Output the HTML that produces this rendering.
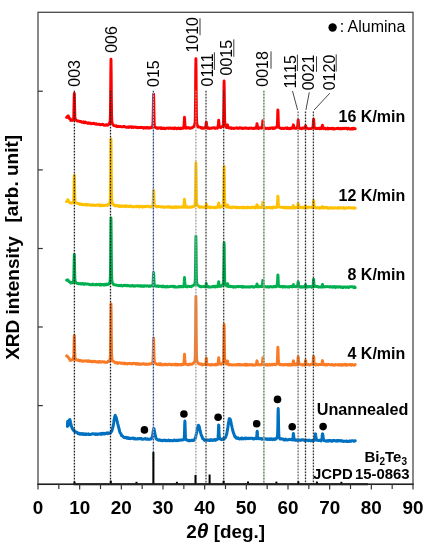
<!DOCTYPE html><html><head><meta charset="utf-8"><title>XRD</title><style>html,body{margin:0;padding:0;background:#fff;}svg{display:block;}</style></head><body><svg width="434" height="550" viewBox="0 0 434 550"><rect width="434" height="550" fill="#fff"/><polyline fill="none" stroke="#ff0000" stroke-width="2.9" stroke-linejoin="round" stroke-linecap="round" points="66.6,117.36 67.2,117.12 67.8,115.96 68.4,116.04 69,118.43 69.6,118.52 70.2,118.68 70.8,120.43 71.4,120.18 72,119.92 72.6,120.4 73.1,119.56 73.2,119.77 73.46,118.48 73.7,116.68 73.8,114.44 73.94,107.96 74.12,98.65 74.3,93.49 74.4,94.33 74.48,97.75 74.66,108.31 74.9,117.24 75,118.08 75.14,118.79 75.5,119.68 75.6,119.41 76.2,120.14 76.8,120.72 77.4,121.02 78,120.94 78.6,121.09 79.2,121.21 79.8,121.56 80.4,121.5 81,121.34 81.6,122.25 82.2,122.06 82.8,122.24 83.4,121.88 84,122.78 84.6,122.73 85.2,122.08 85.8,122.38 86.4,122.86 87,122.94 87.6,123.25 88.2,122.82 88.8,123.32 89.4,123.24 90,122.96 90.6,123.33 91.2,123.7 91.8,123.74 92.4,123.48 93,123.64 93.6,123.17 94.2,123.46 94.8,124.09 95.4,123.78 96,123.62 96.6,124.07 97.2,124.3 97.8,124.35 98.4,124.12 99,124.26 99.6,124.41 100.2,124.75 100.8,124.56 101.4,124.5 102,124.66 102.6,124.27 103.2,124.34 103.8,125.05 104.4,125.38 105,125.03 105.6,124.85 106.2,124.63 106.8,124.93 107.4,125.33 108,124.95 108.6,124.37 109.2,124.04 109.8,122.2 110.16,120.93 110.4,116.05 110.64,95.5 110.82,71.59 111,59.26 111.18,71.72 111.36,95.96 111.6,115.24 111.84,121.39 112.2,123.05 112.8,124.46 113.4,125.1 114,125.64 114.6,125.67 115.2,125.94 115.8,125.98 116.4,125.76 117,126.7 117.6,126.5 118.2,126.22 118.8,126.57 119.4,126.59 120,126.5 120.6,126.52 121.2,126.74 121.8,126.86 122.4,126.88 123,126.75 123.6,126.34 124.2,126.57 124.8,126.56 125.4,127 126,127.31 126.6,127.28 127.2,127.31 127.8,127.36 128.4,126.83 129,127.45 129.6,127.31 130.2,126.75 130.8,126.72 131.4,126.75 132,127.52 132.6,127.04 133.2,126.93 133.8,127.48 134.4,127.23 135,126.98 135.6,127.1 136.2,127.5 136.8,127.17 137.4,127.3 138,127.77 138.6,127.54 139.2,127.44 139.8,127.62 140.4,127.2 141,127.59 141.6,127.65 142.2,127.44 142.8,127.39 143.4,128.21 144,127.84 144.6,127.56 145.2,127.98 145.8,128.21 146.4,127.43 147,127.44 147.6,127.58 148.2,128.15 148.8,127.58 149.4,128.1 150,128.02 150.6,127.76 151.2,127.23 151.8,127.62 152.4,126.79 152.76,125.7 153,122.66 153.24,112.71 153.42,100.23 153.6,94.16 153.78,100.15 153.96,112.69 154.2,122.5 154.44,125.49 154.8,126.98 155.4,127.55 156,127.35 156.6,128.12 157.2,127.7 157.8,128.42 158.4,128.28 159,128 159.6,127.87 160.2,127.65 160.8,128.54 161.4,127.72 162,128.51 162.6,128.67 163.2,128.29 163.8,127.9 164.4,128.6 165,128.71 165.6,128.45 166.2,128.26 166.8,128.14 167.4,128.11 168,127.98 168.6,128.45 169.2,128.21 169.8,127.98 170.4,127.89 171,128.46 171.6,128.09 172.2,128.3 172.8,128.13 173.4,128.67 174,128.71 174.6,127.83 175.2,128.01 175.8,128.14 176.4,128.8 177,128.59 177.6,128.14 178.2,128.01 178.8,128.47 179.4,128.62 180,128.7 180.6,128.08 181.2,128.58 181.8,128.32 182.4,128.02 183,128.35 183.3,127.47 183.6,127.76 183.66,127.05 183.9,126.24 184.14,123.61 184.2,121.61 184.32,119.5 184.5,117.31 184.68,119.57 184.8,121.75 184.86,123.03 185.1,126.33 185.34,127.79 185.4,127.6 185.7,128.13 186,128.18 186.6,127.57 187.2,128.05 187.8,127.63 188.4,127.57 189,127.59 189.6,128.35 190.2,128.23 190.8,128.2 191.4,127.61 192,127.75 192.6,127.7 193.2,126.96 193.8,126.58 194.4,125.22 194.7,124.31 195,123.29 195.06,123.45 195.3,117.51 195.54,96.65 195.6,87.95 195.72,71.01 195.9,58.75 196.08,71.56 196.2,87.5 196.26,96.39 196.5,117.02 196.74,122.66 196.8,123.89 197.1,124.24 197.4,125.21 198,126.95 198.6,126.94 199.2,126.97 199.8,127.22 200.4,127.43 201,128.02 201.6,127.45 202.2,128.3 202.8,127.79 203.4,128.39 204,128.31 204.6,127.65 205.1,127.52 205.2,127.72 205.46,127.24 205.7,127.33 205.8,126.2 205.94,124.92 206.12,123.82 206.3,122.07 206.4,122.72 206.48,123.29 206.66,125.24 206.9,126.76 207,127.9 207.14,128.14 207.5,128.28 207.6,127.45 208.2,127.66 208.8,128.12 209.4,128.52 210,128.11 210.6,128.27 211.2,128.25 211.8,127.85 212.4,128.13 213,127.89 213.6,127.82 214.2,127.65 214.8,127.83 215.4,128.5 216,127.92 216.6,128.05 217.2,127.92 217.5,128.12 217.8,127.43 217.86,127.29 218.1,126.69 218.34,124.37 218.4,124.01 218.52,122.23 218.7,120.25 218.88,121.65 219,123.66 219.06,124.58 219.3,126.87 219.54,127.1 219.6,126.92 219.9,127.23 220.2,127.09 220.8,127.54 221.4,126.89 222,126.55 222.6,126.46 222.9,125.61 223.2,125.31 223.26,124.7 223.5,121.31 223.74,106.38 223.8,101.2 223.92,90.26 224.1,80.99 224.28,90.42 224.4,100.87 224.46,107 224.7,121.43 224.94,125.02 225,124.83 225.3,125.41 225.6,126.32 226.2,127.35 226.3,126.79 226.66,127.55 226.8,126.77 226.9,127.43 227.14,125.68 227.32,124.89 227.4,125.12 227.5,124.85 227.68,125.58 227.86,126.69 228,127.31 228.1,127.55 228.34,127.34 228.6,127.69 228.7,127.45 229.2,128.11 229.8,128.15 230.4,127.79 231,127.65 231.6,128.58 232.2,128.45 232.8,128.21 233.4,128.22 234,128.54 234.6,128.15 235.2,128.1 235.8,128.05 236.4,127.98 237,127.75 237.6,128.38 238.2,128.16 238.8,128.32 239.4,127.81 240,128.11 240.6,127.89 241.2,127.88 241.8,128.02 242.4,128.59 243,128.16 243.6,128.16 244.2,128.38 244.8,128 245.4,127.77 246,128.29 246.6,128.26 247.2,128.41 247.8,128.2 248.4,128.45 249,128.49 249.6,128 250.2,128.25 250.8,128.23 251.4,127.97 252,128.16 252.6,128.3 253.2,128.63 253.8,128.63 254.4,127.96 255,128.28 255.6,127.61 255.8,127.59 256.16,127.91 256.2,128.25 256.4,127.17 256.64,126.32 256.8,124.89 256.82,124.14 257,123.64 257.18,124.68 257.36,125.92 257.4,126.59 257.6,127.74 257.84,127.98 258,128.31 258.2,128.39 258.6,128.51 259.2,128.17 259.8,127.78 260.4,127.83 261,127.74 261.6,127.97 261.7,128.13 262.06,127.24 262.2,127.64 262.3,127.3 262.54,124.62 262.72,122.06 262.8,120.78 262.9,120.89 263.08,121.59 263.26,125.26 263.4,126.71 263.5,127.22 263.74,127.47 264,128.26 264.1,128.34 264.6,127.65 265.2,128.38 265.8,128.49 266.4,128.34 267,128.4 267.6,128.16 268.2,128.64 268.8,128.69 269.4,128.11 270,128.53 270.6,128.15 271.2,127.88 271.8,128.03 272.4,127.82 273,128.58 273.6,128.6 274.2,127.72 274.8,128.14 275.4,127.84 276,127.37 276.6,127.23 276.7,127.1 277.06,127.16 277.2,125.85 277.3,125.11 277.54,119.74 277.72,112.69 277.8,111.04 277.9,109.89 278.08,113.5 278.26,119.5 278.4,123.54 278.5,125.47 278.74,126.69 279,127.36 279.1,127.11 279.6,127.85 280.2,128.18 280.8,128.32 281.4,128.57 282,128.19 282.6,128.17 283.2,128.56 283.8,128.49 284.4,128.31 285,128.13 285.6,128.04 286.2,127.87 286.8,128.58 287.4,127.89 288,128.53 288.6,128.32 289.2,128.74 289.8,128.53 290.4,128.74 291,127.88 291.6,128.21 292.2,128.23 292.56,127.89 292.8,127.84 293.04,126.79 293.22,125.9 293.4,124.83 293.58,125.81 293.76,126.88 294,127.63 294.24,127.95 294.6,128.4 295.2,128.32 295.8,128.11 296.4,128.2 297,127.77 297.36,127.39 297.6,126.49 297.84,124.09 298.02,121.26 298.2,119.94 298.38,121.5 298.56,124.33 298.8,127.48 299.04,127.67 299.4,128.25 300,128 300.6,128.43 301.2,128.73 301.8,128.07 302.4,127.95 303,128.41 303.6,128.3 304.2,128.1 304.4,127.72 304.76,128.04 304.8,128.06 305,127.82 305.24,127.39 305.4,126.17 305.42,126.21 305.6,125.84 305.78,126.23 305.96,127.03 306,127.49 306.2,128.07 306.44,128.31 306.6,128.33 306.8,128.14 307.2,128.4 307.8,128.44 308.4,128.76 309,128.62 309.6,128.67 310.2,128.58 310.8,128.59 311.4,128.32 312,127.95 312.4,127.74 312.6,128.1 312.76,128.13 313,127.07 313.2,124.54 313.24,124.57 313.42,120.94 313.6,119.24 313.78,120.5 313.8,121.31 313.96,124.49 314.2,126.95 314.4,127.57 314.44,127.93 314.8,127.51 315,128.07 315.6,128.66 316.2,128.49 316.8,128.25 317.4,128.56 318,128.5 318.6,128.11 319.2,128.11 319.8,128.78 320.4,128.15 321,127.91 321.3,128.63 321.6,128.27 321.66,128.09 321.9,127.95 322.14,127.11 322.2,126.13 322.32,125.77 322.5,125.19 322.68,125.94 322.8,126.24 322.86,126.99 323.1,127.68 323.34,128.3 323.4,127.93 323.7,128.61 324,128.73 324.6,128.25 325.2,128.18 325.8,128.94 326.4,128.7 327,128.85 327.6,128.04 328.2,128.92 328.8,128.65 329.4,128.35 330,128.47 330.6,128.8 331.2,128.83 331.8,128.24 332.4,128.68 333,128.23 333.6,129.04 334.2,128.51 334.8,128.99 335.4,128.8 336,128.69 336.6,128.35 337.2,128.61 337.8,128.23 338.4,128.23 339,128.81 339.6,128.46 340.2,128.86 340.8,128.35 341.4,128.83 342,128.84 342.6,128.43 343.2,128.23 343.8,128.53 344.4,128.62 345,128.24 345.6,128.33 346.2,128.2 346.8,128.74 347.4,129.04 348,128.37 348.6,128.19 349.2,128.86 349.8,128.98 350.4,129.13 351,128.78 351.6,128.52 352.2,129.02 352.8,128.3 353.4,128.88 354,128.28 354.6,128.59 355.2,128.69"/><polyline fill="none" stroke="#ffc000" stroke-width="2.9" stroke-linejoin="round" stroke-linecap="round" points="66.6,201.58 67.2,201.16 67.8,199.66 68.4,200.47 69,201.99 69.6,202.5 70.2,203.03 70.8,202.82 71.4,203.15 72,203.1 72.6,202.78 73.1,201.92 73.2,202.08 73.46,201.51 73.7,199.59 73.8,197.33 73.94,191.27 74.12,180.78 74.3,175.54 74.4,177.08 74.48,180.3 74.66,190.4 74.9,199.42 75,200.68 75.14,201.62 75.5,202.84 75.6,202.59 76.2,203.16 76.8,203.16 77.4,203.15 78,203.59 78.6,203.51 79.2,203.97 79.8,204.53 80.4,204.27 81,203.84 81.6,204.61 82.2,204.56 82.8,204.55 83.4,204.77 84,204.68 84.6,204.75 85.2,204.36 85.8,205.03 86.4,205.06 87,204.3 87.6,204.94 88.2,204.95 88.8,204.74 89.4,204.85 90,204.85 90.6,205.31 91.2,204.91 91.8,205.27 92.4,204.82 93,205.37 93.6,205.41 94.2,205 94.8,205.13 95.4,205.51 96,205.33 96.6,205.12 97.2,204.88 97.8,205 98.4,205.4 99,204.88 99.6,205.65 100.2,205.02 100.8,205.68 101.4,205.1 102,205.76 102.6,205.52 103.2,205.32 103.8,205.33 104.4,205.46 105,205.38 105.6,205.07 106.2,204.92 106.8,205.14 107.4,205.43 108,204.89 108.6,203.96 109.2,204.01 109.8,202.66 110.16,201.26 110.4,195.17 110.64,175.37 110.82,150.7 111,139.05 111.18,150.93 111.36,174.89 111.6,195.91 111.84,200.54 112.2,202.58 112.8,204.23 113.4,204.37 114,204.78 114.6,205.73 115.2,205.47 115.8,205.91 116.4,205.33 117,205.75 117.6,205.63 118.2,206.2 118.8,205.66 119.4,206.58 120,205.7 120.6,206.43 121.2,205.74 121.8,206 122.4,206.57 123,205.93 123.6,205.98 124.2,206.5 124.8,206.21 125.4,205.88 126,206.84 126.6,206.01 127.2,205.91 127.8,206.23 128.4,206.52 129,206.65 129.6,206.04 130.2,206.27 130.8,205.98 131.4,206.41 132,206.73 132.6,206.72 133.2,206.89 133.8,206.76 134.4,206.87 135,206.73 135.6,206.5 136.2,206.27 136.8,206.71 137.4,206.38 138,206.17 138.6,206.53 139.2,206.97 139.8,206.23 140.4,206.7 141,206.51 141.6,206.64 142.2,206.28 142.8,207.1 143.4,206.41 144,206.77 144.6,206.59 145.2,206.19 145.8,206.74 146.4,206.32 147,206.24 147.6,206.22 148.2,206.34 148.8,206.26 149.4,206.79 150,206.63 150.6,207.05 151.2,206.91 151.8,206.8 152.4,205.72 152.76,205.54 153,204 153.24,199.25 153.42,193.28 153.6,190.39 153.78,193.37 153.96,198.92 154.2,204.19 154.44,205.65 154.8,205.53 155.4,205.9 156,206.46 156.6,206.28 157.2,206.96 157.8,206.53 158.4,206.43 159,206.54 159.6,206.61 160.2,206.62 160.8,206.94 161.4,206.9 162,206.76 162.6,207.11 163.2,206.69 163.8,207.4 164.4,207.47 165,207.24 165.6,206.96 166.2,207.05 166.8,207.13 167.4,206.61 168,206.99 168.6,207.1 169.2,206.77 169.8,206.69 170.4,207.41 171,206.99 171.6,207.15 172.2,207.56 172.8,207.26 173.4,206.95 174,207.65 174.6,207.04 175.2,206.7 175.8,207.37 176.4,206.8 177,207.01 177.6,207.55 178.2,207.38 178.8,206.73 179.4,207.17 180,207.12 180.6,207.18 181.2,206.88 181.8,207.22 182.4,206.65 183,206.74 183.3,206.74 183.6,207.17 183.66,206.26 183.9,206.3 184.14,203.32 184.2,202.77 184.32,200.68 184.5,199.3 184.68,201.04 184.8,202.59 184.86,203.25 185.1,205.66 185.34,206.25 185.4,207.08 185.7,207 186,207.4 186.6,207.25 187.2,206.64 187.8,207.3 188.4,207.43 189,207.37 189.6,207.14 190.2,206.97 190.8,207.04 191.4,207.32 192,206.71 192.6,206.84 193.2,206.58 193.8,206.69 194.4,205.9 194.7,205.54 195,204.67 195.06,203.84 195.3,200.17 195.54,186.81 195.6,181.29 195.72,170.7 195.9,162.75 196.08,171.19 196.2,181.62 196.26,187.14 196.5,200.04 196.74,203.9 196.8,204.84 197.1,204.77 197.4,205.53 198,205.83 198.6,206.21 199.2,207.24 199.8,207.47 200.4,207.22 201,206.76 201.6,206.97 202.2,206.93 202.8,207.39 203.4,207.41 204,207.16 204.6,207.22 205.1,206.77 205.2,207.18 205.46,207.54 205.7,207.1 205.8,206.16 205.94,205.91 206.12,205 206.3,203.97 206.4,204.8 206.48,204.75 206.66,206.11 206.9,206.76 207,207.5 207.14,207.39 207.5,207.26 207.6,206.84 208.2,207.2 208.8,206.82 209.4,207.4 210,207.7 210.6,207.01 211.2,207.34 211.8,207.32 212.4,207.24 213,207.54 213.6,207.76 214.2,207.52 214.8,207.27 215.4,207.74 216,207.08 216.6,207.45 217.2,207.29 217.5,207.33 217.8,207.34 217.86,206.68 218.1,206.71 218.34,205.16 218.4,204.91 218.52,204.17 218.7,203.02 218.88,203.18 219,204.67 219.06,205.42 219.3,206.9 219.54,206.99 219.6,207.18 219.9,206.42 220.2,207.34 220.8,207.07 221.4,206.78 222,206.77 222.6,206.17 222.9,204.93 223.2,204.94 223.26,204.62 223.5,200.73 223.74,188.73 223.8,183.7 223.92,173.39 224.1,166.45 224.28,173.34 224.4,183.72 224.46,188.42 224.7,200.78 224.94,204.42 225,204.59 225.3,205.03 225.6,206.24 226.2,205.91 226.3,205.9 226.66,206.54 226.8,206.9 226.9,206.66 227.14,206.24 227.32,205.32 227.4,205.29 227.5,204.86 227.68,205.19 227.86,206.17 228,206.14 228.1,206.39 228.34,207.26 228.6,206.75 228.7,207.34 229.2,207.46 229.8,207.15 230.4,207.46 231,207.61 231.6,207.71 232.2,207 232.8,207.04 233.4,207.28 234,207.37 234.6,207.21 235.2,206.93 235.8,207.49 236.4,207.9 237,207.31 237.6,207.49 238.2,207.33 238.8,207.4 239.4,207.83 240,207.27 240.6,207.62 241.2,207.45 241.8,207.51 242.4,207.89 243,207.05 243.6,207.8 244.2,207.29 244.8,207.63 245.4,207.78 246,207.64 246.6,207.38 247.2,207.83 247.8,207.09 248.4,207.63 249,207.39 249.6,207.53 250.2,207.85 250.8,207.79 251.4,207.62 252,207.3 252.6,207.22 253.2,207.44 253.8,207.21 254.4,207.24 255,207.9 255.6,207.01 255.8,207.7 256.16,207.19 256.2,207.16 256.4,206.92 256.64,205.87 256.8,205.41 256.82,205.02 257,204.81 257.18,205.14 257.36,206.69 257.4,206.9 257.6,207.04 257.84,207.45 258,207.77 258.2,207.19 258.6,207 259.2,207.16 259.8,207.11 260.4,207.58 261,207.23 261.6,207.13 261.7,207.55 262.06,206.86 262.2,207.26 262.3,206.82 262.54,204.93 262.72,203.4 262.8,202.25 262.9,202.45 263.08,203.5 263.26,205.03 263.4,206.39 263.5,207.14 263.74,207.37 264,207.49 264.1,207.63 264.6,207.79 265.2,207.68 265.8,207.94 266.4,207.28 267,207.62 267.6,207.68 268.2,207.38 268.8,207.42 269.4,207.2 270,207.98 270.6,207.38 271.2,207.5 271.8,207.91 272.4,207.2 273,207.96 273.6,207.11 274.2,206.99 274.8,207.27 275.4,207.22 276,207.66 276.6,207.43 276.7,207.26 277.06,206.66 277.2,206.41 277.3,205.53 277.54,202.6 277.72,198 277.8,196.48 277.9,196.13 278.08,197.76 278.26,202.08 278.4,205.17 278.5,205.39 278.74,206.37 279,206.66 279.1,206.76 279.6,207.12 280.2,207.09 280.8,207.26 281.4,207.22 282,207.25 282.6,207.64 283.2,207.38 283.8,207.43 284.4,207.84 285,207.14 285.6,207.23 286.2,207.94 286.8,207.52 287.4,207.88 288,207.23 288.6,207.62 289.2,207.95 289.8,207.44 290.4,207.86 291,207.69 291.6,207.45 292.2,208.01 292.56,207.35 292.8,207.25 293.04,206.71 293.22,205.59 293.4,205.7 293.58,205.87 293.76,206.67 294,207.31 294.24,207.94 294.6,207.99 295.2,207.87 295.8,207.49 296.4,207.42 297,207.46 297.36,206.88 297.6,206.6 297.84,206.19 298.02,203.78 298.2,203.81 298.38,204.34 298.56,206.11 298.8,206.58 299.04,207.16 299.4,207.75 300,207.05 300.6,207.2 301.2,207.47 301.8,207.31 302.4,207.29 303,207.81 303.6,207.23 304.2,208.09 304.4,207.75 304.76,207.12 304.8,207.96 305,207.18 305.24,206.93 305.4,206.48 305.42,206 305.6,206.07 305.78,205.93 305.96,206.65 306,207.48 306.2,207.77 306.44,207.6 306.6,207.78 306.8,207.99 307.2,207.28 307.8,207.65 308.4,207.3 309,207.29 309.6,207.27 310.2,207.36 310.8,207.18 311.4,207.3 312,207.37 312.4,207.52 312.6,207.69 312.76,207.64 313,206.89 313.2,205.06 313.24,204.97 313.42,201.72 313.6,200.39 313.78,202.38 313.8,202.45 313.96,204.27 314.2,206.56 314.4,207 314.44,207.18 314.8,207.34 315,207.37 315.6,207.88 316.2,207.96 316.8,207.75 317.4,207.68 318,207.51 318.6,208 319.2,208.23 319.8,207.48 320.4,207.95 321,207.93 321.3,207.88 321.6,207.23 321.66,207.74 321.9,207.29 322.14,206.89 322.2,207.12 322.32,206.87 322.5,206.61 322.68,206.97 322.8,207.24 322.86,207.17 323.1,207.15 323.34,207.98 323.4,208.04 323.7,208.08 324,207.86 324.6,207.32 325.2,207.49 325.8,207.41 326.4,207.95 327,207.86 327.6,207.51 328.2,208.29 328.8,208.31 329.4,208.24 330,207.81 330.6,207.64 331.2,207.56 331.8,208.18 332.4,208.06 333,207.64 333.6,208.27 334.2,207.94 334.8,207.79 335.4,207.79 336,208.1 336.6,207.84 337.2,208.05 337.8,207.52 338.4,208.1 339,207.67 339.6,208.31 340.2,207.62 340.8,207.74 341.4,207.95 342,207.81 342.6,207.95 343.2,208.35 343.8,207.63 344.4,208.2 345,208.13 345.6,208.22 346.2,207.89 346.8,207.9 347.4,207.79 348,207.93 348.6,207.71 349.2,207.65 349.8,207.94 350.4,207.66 351,207.94 351.6,208.05 352.2,207.79 352.8,207.65 353.4,208.09 354,208.35 354.6,207.71 355.2,208.11"/><polyline fill="none" stroke="#00b050" stroke-width="2.9" stroke-linejoin="round" stroke-linecap="round" points="66.6,280.26 67.2,280.32 67.8,279.77 68.4,280.78 69,281.58 69.6,281.63 70.2,282.17 70.8,283.11 71.4,282.52 72,282.41 72.6,282.86 73.1,281.87 73.2,282.11 73.46,281.2 73.7,279.05 73.8,275.96 73.94,270.26 74.12,260.14 74.3,254.51 74.4,256.5 74.48,259.97 74.66,269.73 74.9,279.23 75,280.5 75.14,281.11 75.5,281.55 75.6,282.51 76.2,282.65 76.8,283.21 77.4,283.57 78,283.54 78.6,283.85 79.2,283.4 79.8,283.88 80.4,283.58 81,284.12 81.6,284.11 82.2,283.37 82.8,283.45 83.4,283.58 84,284.36 84.6,283.87 85.2,284.1 85.8,283.81 86.4,284.06 87,283.97 87.6,283.97 88.2,284.24 88.8,284.27 89.4,284.63 90,284.44 90.6,284.72 91.2,284.67 91.8,284.83 92.4,284.54 93,284.05 93.6,284.78 94.2,284.9 94.8,284.87 95.4,284.56 96,284.73 96.6,284.25 97.2,284.89 97.8,284.66 98.4,284.39 99,284.19 99.6,285 100.2,285.15 100.8,284.27 101.4,285 102,284.62 102.6,284.37 103.2,284.52 103.8,284.99 104.4,285.09 105,284.25 105.6,284.79 106.2,284.16 106.8,284.75 107.4,284.23 108,284.55 108.6,284.26 109.2,283.09 109.8,282.31 110.16,280.04 110.4,274.42 110.64,254.57 110.82,229.99 111,217.89 111.18,230.38 111.36,254.61 111.6,274.55 111.84,279.84 112.2,282.28 112.8,283.05 113.4,284.44 114,284.82 114.6,284.58 115.2,284.85 115.8,285.04 116.4,285.27 117,285.31 117.6,285.34 118.2,285.46 118.8,285.83 119.4,285.44 120,285.41 120.6,285.72 121.2,285.26 121.8,285.35 122.4,286.05 123,285.61 123.6,285.65 124.2,285.13 124.8,285.55 125.4,285.73 126,285.19 126.6,285.8 127.2,285.83 127.8,285.27 128.4,285.86 129,285.71 129.6,285.94 130.2,285.62 130.8,285.99 131.4,286.03 132,285.33 132.6,285.38 133.2,286.01 133.8,286.31 134.4,285.61 135,285.83 135.6,285.98 136.2,285.72 136.8,285.77 137.4,285.73 138,285.8 138.6,286.04 139.2,285.76 139.8,285.85 140.4,286.25 141,285.52 141.6,286.07 142.2,286.25 142.8,285.83 143.4,285.76 144,286.35 144.6,285.79 145.2,285.75 145.8,286.01 146.4,286.28 147,285.68 147.6,285.91 148.2,285.92 148.8,286.42 149.4,286.01 150,286.41 150.6,285.68 151.2,285.78 151.8,285.96 152.4,285.95 152.76,285.2 153,283.89 153.24,279.69 153.42,275.28 153.6,272.48 153.78,275.56 153.96,280.43 154.2,283.87 154.44,285.06 154.8,285.92 155.4,286.02 156,286.34 156.6,285.98 157.2,285.82 157.8,286.03 158.4,286.57 159,286.07 159.6,286.17 160.2,286.26 160.8,286.28 161.4,286.29 162,286.82 162.6,286.07 163.2,285.93 163.8,286.88 164.4,286.83 165,286.95 165.6,286.41 166.2,286.94 166.8,286.93 167.4,286.24 168,286.78 168.6,286.88 169.2,286.72 169.8,286.58 170.4,286.37 171,286.43 171.6,286.33 172.2,286.18 172.8,286.71 173.4,286.42 174,286.95 174.6,286.2 175.2,287.06 175.8,286.86 176.4,287.1 177,287.08 177.6,287.09 178.2,286.78 178.8,286.22 179.4,286.95 180,286.37 180.6,286.48 181.2,286.82 181.8,286.63 182.4,286.44 183,286.84 183.3,286.41 183.6,285.98 183.66,285.84 183.9,285.73 184.14,282.63 184.2,281.89 184.32,279.32 184.5,277.53 184.68,279.5 184.8,281.91 184.86,282.32 185.1,285.64 185.34,286.49 185.4,286.43 185.7,286.6 186,285.88 186.6,286.62 187.2,286.91 187.8,286.13 188.4,286.36 189,286.35 189.6,286.59 190.2,286.46 190.8,286.46 191.4,286.7 192,285.83 192.6,285.73 193.2,285.56 193.8,285.15 194.4,284.36 194.7,284.71 195,283.71 195.06,282.61 195.3,278.95 195.54,263.34 195.6,257.35 195.72,245.21 195.9,236.22 196.08,245.44 196.2,257.4 196.26,263.21 196.5,278.77 196.74,282.65 196.8,283.42 197.1,284.45 197.4,284.67 198,285.1 198.6,285.61 199.2,286.05 199.8,286.43 200.4,286.71 201,286.38 201.6,286.84 202.2,286.7 202.8,286.52 203.4,286.47 204,286.59 204.6,286.77 205.1,286.44 205.2,286.7 205.46,286.41 205.7,285.93 205.8,285.93 205.94,285.38 206.12,283.58 206.3,283.33 206.4,283.53 206.48,284.39 206.66,285.63 206.9,286.07 207,286.76 207.14,286.76 207.5,286.31 207.6,286.52 208.2,286.24 208.8,286.97 209.4,286.84 210,287.07 210.6,286.98 211.2,286.86 211.8,286.93 212.4,286.75 213,286.29 213.6,286.76 214.2,286.17 214.8,286.29 215.4,286.9 216,286.13 216.6,286.12 217.2,286.04 217.5,286.75 217.8,285.94 217.86,285.75 218.1,286.13 218.34,283.78 218.4,283.87 218.52,282.42 218.7,281.6 218.88,282.68 219,283.57 219.06,284.41 219.3,285.23 219.54,286.37 219.6,286.14 219.9,286.39 220.2,285.79 220.8,286.38 221.4,286.4 222,285.19 222.6,284.83 222.9,284.59 223.2,284.1 223.26,283.23 223.5,279.63 223.74,266.35 223.8,261.53 223.92,251.12 224.1,242.72 224.28,250.73 224.4,261.31 224.46,266.45 224.7,279.86 224.94,283.06 225,283.76 225.3,284.98 225.6,284.89 226.2,285.82 226.3,285.29 226.66,285.98 226.8,286.02 226.9,285.85 227.14,284.96 227.32,284.02 227.4,283.87 227.5,283.99 227.68,283.78 227.86,284.73 228,285.99 228.1,286.42 228.34,286.27 228.6,286.28 228.7,286.58 229.2,286.15 229.8,286.31 230.4,286.29 231,286.71 231.6,286.47 232.2,286.41 232.8,286.88 233.4,287.16 234,286.51 234.6,286.93 235.2,286.64 235.8,287.09 236.4,286.83 237,286.51 237.6,286.47 238.2,286.28 238.8,286.74 239.4,286.64 240,286.43 240.6,286.62 241.2,286.59 241.8,287.04 242.4,286.41 243,287.26 243.6,286.75 244.2,286.87 244.8,286.74 245.4,287.11 246,287.09 246.6,286.83 247.2,286.75 247.8,286.99 248.4,287.13 249,286.67 249.6,287 250.2,287.23 250.8,286.73 251.4,286.49 252,286.5 252.6,286.97 253.2,286.92 253.8,287.2 254.4,287.08 255,286.44 255.6,286.34 255.8,286.39 256.16,286.25 256.2,286.75 256.4,286.7 256.64,285.92 256.8,284.41 256.82,284.92 257,283.87 257.18,284.47 257.36,285.75 257.4,285.3 257.6,285.93 257.84,286.88 258,286.38 258.2,286.47 258.6,286.72 259.2,286.84 259.8,286.16 260.4,286.47 261,286.51 261.6,286.45 261.7,286.15 262.06,286.37 262.2,286.53 262.3,285.64 262.54,283.79 262.72,281 262.8,280.35 262.9,280.34 263.08,280.99 263.26,284.13 263.4,285.57 263.5,285.35 263.74,286.73 264,286.29 264.1,286.72 264.6,286.81 265.2,286.43 265.8,286.85 266.4,286.86 267,287.03 267.6,286.5 268.2,286.99 268.8,287.2 269.4,286.92 270,286.78 270.6,286.36 271.2,286.73 271.8,286.59 272.4,286.94 273,286.89 273.6,286.76 274.2,286.35 274.8,286.77 275.4,286.69 276,286.12 276.6,286.63 276.7,286.34 277.06,285.53 277.2,285.97 277.3,284.59 277.54,281.16 277.72,277.28 277.8,275.71 277.9,274.94 278.08,277.21 278.26,281.29 278.4,283.69 278.5,284.62 278.74,285.47 279,286.35 279.1,286.44 279.6,286.43 280.2,286.77 280.8,286.47 281.4,286.43 282,286.58 282.6,287.1 283.2,286.28 283.8,286.76 284.4,286.51 285,287.04 285.6,286.63 286.2,286.62 286.8,286.69 287.4,286.83 288,287.07 288.6,286.65 289.2,287.14 289.8,286.4 290.4,286.55 291,286.37 291.6,286.36 292.2,286.97 292.56,286.86 292.8,286.11 293.04,285.33 293.22,284.64 293.4,284.49 293.58,285.04 293.76,285.89 294,286.51 294.24,286.26 294.6,286.57 295.2,286.4 295.8,286.73 296.4,286.73 297,286.26 297.36,286.19 297.6,286.27 297.84,283.82 298.02,282.59 298.2,281.66 298.38,282.74 298.56,284.18 298.8,286.05 299.04,286.53 299.4,286.72 300,287.17 300.6,286.95 301.2,286.59 301.8,287.18 302.4,286.81 303,286.93 303.6,287.05 304.2,286.3 304.4,287.06 304.76,286.91 304.8,286.73 305,286.62 305.24,286.01 305.4,285.15 305.42,285.42 305.6,284.6 305.78,285.4 305.96,286.2 306,286.13 306.2,286.67 306.44,287.21 306.6,287.17 306.8,286.43 307.2,287.12 307.8,286.97 308.4,286.41 309,286.72 309.6,286.59 310.2,286.41 310.8,286.85 311.4,287.18 312,286.47 312.4,286.91 312.6,286.66 312.76,285.98 313,286.06 313.2,283.93 313.24,283.68 313.42,280.58 313.6,279.12 313.78,280.21 313.8,280.97 313.96,283.69 314.2,286.07 314.4,286.25 314.44,286.62 314.8,286.54 315,286.23 315.6,286.29 316.2,286.4 316.8,286.57 317.4,286.55 318,286.91 318.6,287.12 319.2,286.96 319.8,286.85 320.4,287.06 321,286.69 321.3,286.83 321.6,287.08 321.66,286.71 321.9,286.3 322.14,286.28 322.2,285.82 322.32,284.89 322.5,284.45 322.68,285.05 322.8,285.7 322.86,285.61 323.1,286.13 323.34,286.53 323.4,287.12 323.7,286.53 324,286.87 324.6,286.65 325.2,286.68 325.8,286.66 326.4,286.91 327,286.68 327.6,286.55 328.2,286.64 328.8,286.7 329.4,287.03 330,286.6 330.6,286.57 331.2,287 331.8,286.96 332.4,287.26 333,286.61 333.6,286.97 334.2,286.97 334.8,286.6 335.4,287.54 336,286.8 336.6,286.68 337.2,287.06 337.8,286.76 338.4,287.22 339,286.95 339.6,286.73 340.2,286.66 340.8,287.34 341.4,286.89 342,287.41 342.6,287.09 343.2,287.56 343.8,286.93 344.4,286.88 345,286.9 345.6,287.45 346.2,287.27 346.8,286.99 347.4,286.74 348,287.33 348.6,287.62 349.2,287.25 349.8,286.67 350.4,286.7 351,286.76 351.6,286.84 352.2,286.71 352.8,286.73 353.4,287.34 354,287.59 354.6,286.89 355.2,287.67"/><polyline fill="none" stroke="#fb7a24" stroke-width="2.9" stroke-linejoin="round" stroke-linecap="round" points="66.6,355.87 67.2,356.13 67.8,357.01 68.4,357.51 69,358.24 69.6,359.38 70.2,360.43 70.8,360.31 71.4,360.23 72,359.58 72.6,359.59 73.1,358.91 73.2,358.69 73.46,358.14 73.7,356.22 73.8,354.66 73.94,349.16 74.12,340.11 74.3,335.49 74.4,336.42 74.48,339.62 74.66,348.96 74.9,356.73 75,358.1 75.14,358.91 75.5,358.72 75.6,359.34 76.2,359.86 76.8,359.98 77.4,359.84 78,360.27 78.6,359.98 79.2,360.91 79.8,360.91 80.4,360.66 81,360.47 81.6,361.13 82.2,360.85 82.8,361.21 83.4,361.22 84,360.93 84.6,360.88 85.2,361.11 85.8,360.99 86.4,360.76 87,360.95 87.6,361.5 88.2,360.78 88.8,360.82 89.4,361.45 90,361.14 90.6,361.43 91.2,361.41 91.8,361.32 92.4,362.01 93,361.24 93.6,361.49 94.2,361.32 94.8,361.78 95.4,361.46 96,361.57 96.6,362 97.2,361.61 97.8,361.88 98.4,362.26 99,361.48 99.6,361.48 100.2,361.67 100.8,362.24 101.4,362.11 102,361.76 102.6,361.88 103.2,361.74 103.8,362.04 104.4,361.63 105,362.28 105.6,362.47 106.2,362.49 106.8,362.21 107.4,362.33 108,361.2 108.6,361.15 109.2,361.24 109.8,359.97 110.16,358.23 110.4,354.06 110.64,335.93 110.82,315.13 111,303.89 111.18,314.53 111.36,335.81 111.6,353.35 111.84,358.33 112.2,360.34 112.8,360.88 113.4,361.23 114,361.68 114.6,362.07 115.2,362.87 115.8,362.6 116.4,362.64 117,362.54 117.6,363.51 118.2,363.02 118.8,362.87 119.4,362.79 120,362.84 120.6,362.99 121.2,363.52 121.8,363.02 122.4,362.93 123,363.4 123.6,363.18 124.2,363.95 124.8,363.1 125.4,363.52 126,363.79 126.6,363.44 127.2,364.04 127.8,363.55 128.4,363.33 129,363.51 129.6,363.16 130.2,363.56 130.8,363.4 131.4,364.06 132,364.02 132.6,363.7 133.2,363.25 133.8,363.49 134.4,363.5 135,363.48 135.6,363.52 136.2,364.17 136.8,363.46 137.4,363.38 138,364.28 138.6,363.93 139.2,364.37 139.8,363.8 140.4,364.31 141,364.07 141.6,364.23 142.2,364.19 142.8,363.96 143.4,363.57 144,363.7 144.6,364.37 145.2,364.41 145.8,364.44 146.4,363.86 147,364.18 147.6,364.32 148.2,364.16 148.8,364.32 149.4,364 150,364.08 150.6,364.03 151.2,363.46 151.8,363.85 152.4,363.41 152.76,361.92 153,360.75 153.24,352.94 153.42,343.45 153.6,338.13 153.78,343.69 153.96,352.12 154.2,360.77 154.44,362.54 154.8,362.56 155.4,363.17 156,363.93 156.6,364.03 157.2,364.32 157.8,364.57 158.4,363.92 159,363.75 159.6,364.7 160.2,363.82 160.8,364.71 161.4,363.97 162,364.68 162.6,364.67 163.2,364.78 163.8,364.47 164.4,364.82 165,364.15 165.6,364.64 166.2,364.31 166.8,364.88 167.4,364.78 168,364.49 168.6,364.56 169.2,364.07 169.8,364.09 170.4,364.66 171,364.57 171.6,364.95 172.2,364.71 172.8,364.25 173.4,364.48 174,364.9 174.6,364.66 175.2,364.16 175.8,365 176.4,364.99 177,364.26 177.6,364.72 178.2,364.56 178.8,364.97 179.4,364.5 180,364.41 180.6,364.64 181.2,365.09 181.8,364.16 182.4,364.1 183,364.45 183.3,364.6 183.6,364.05 183.66,363.9 183.9,363.5 184.14,360.32 184.2,358.4 184.32,356.76 184.5,354.21 184.68,356.18 184.8,359.16 184.86,359.95 185.1,363.43 185.34,363.61 185.4,364.39 185.7,363.86 186,363.94 186.6,364.42 187.2,364.33 187.8,364.56 188.4,364.93 189,364.73 189.6,364 190.2,364.26 190.8,364.43 191.4,364.28 192,364.38 192.6,363.94 193.2,363.21 193.8,362.82 194.4,362.43 194.7,361.18 195,360.41 195.06,360.17 195.3,354.29 195.54,333.44 195.6,325.26 195.72,308.46 195.9,296.48 196.08,308.61 196.2,325.56 196.26,333.07 196.5,354.53 196.74,359.98 196.8,360.26 197.1,361.27 197.4,361.72 198,363.34 198.6,363.49 199.2,364.12 199.8,363.79 200.4,363.88 201,364.03 201.6,364.75 202.2,364.16 202.8,364.91 203.4,364.38 204,364.57 204.6,364.28 205.1,364.46 205.2,363.91 205.46,364.1 205.7,364.13 205.8,362.81 205.94,361.94 206.12,359.35 206.3,358.18 206.4,358.29 206.48,359.05 206.66,362.24 206.9,364.04 207,364.33 207.14,364.53 207.5,364.83 207.6,364.06 208.2,364.6 208.8,364.58 209.4,364.69 210,365.08 210.6,364.91 211.2,365.13 211.8,364.28 212.4,364.82 213,364.84 213.6,364.9 214.2,364.76 214.8,364.96 215.4,364.4 216,364.98 216.6,364.39 217.2,364.46 217.5,364.67 217.8,364.34 217.86,363.9 218.1,363.23 218.34,361.12 218.4,360.57 218.52,359.2 218.7,357.77 218.88,358.58 219,360.3 219.06,361.57 219.3,363.2 219.54,363.89 219.6,363.53 219.9,363.79 220.2,364.18 220.8,364.31 221.4,364.1 222,363.56 222.6,363.59 222.9,362.82 223.2,361.67 223.26,361.32 223.5,359.01 223.74,346.85 223.8,342.06 223.92,332.14 224.1,324.52 224.28,331.62 224.4,341.4 224.46,346.08 224.7,358.95 224.94,362.13 225,362.28 225.3,362.33 225.6,362.84 226.2,363.43 226.3,364.13 226.66,363.46 226.8,364.05 226.9,363.82 227.14,362.76 227.32,362.04 227.4,360.97 227.5,361.05 227.68,361.33 227.86,362.48 228,363.15 228.1,363.75 228.34,363.85 228.6,363.89 228.7,364.85 229.2,364.24 229.8,364.93 230.4,364.79 231,364.86 231.6,364.81 232.2,365.13 232.8,365.07 233.4,364.92 234,364.77 234.6,364.91 235.2,364.95 235.8,364.79 236.4,364.74 237,364.4 237.6,365.09 238.2,364.73 238.8,364.32 239.4,364.42 240,365.13 240.6,364.52 241.2,364.65 241.8,364.94 242.4,365.13 243,364.59 243.6,364.65 244.2,364.69 244.8,364.29 245.4,365.14 246,364.29 246.6,365.23 247.2,364.42 247.8,364.42 248.4,365.11 249,365.09 249.6,364.5 250.2,364.81 250.8,364.74 251.4,364.97 252,364.44 252.6,365.07 253.2,365.23 253.8,364.93 254.4,365.12 255,365.09 255.6,364.47 255.8,364.91 256.16,364.79 256.2,364.52 256.4,363.73 256.64,363 256.8,361.97 256.82,361.21 257,360.8 257.18,361.8 257.36,362.97 257.4,362.7 257.6,364.25 257.84,364.2 258,364.86 258.2,364.7 258.6,364.39 259.2,365.02 259.8,364.75 260.4,364.45 261,364.89 261.6,364.83 261.7,364.81 262.06,364.64 262.2,364.2 262.3,363.91 262.54,361.75 262.72,359.23 262.8,358.86 262.9,357.81 263.08,358.79 263.26,361.86 263.4,363.1 263.5,363.76 263.74,364.36 264,364.14 264.1,364.13 264.6,364.11 265.2,364.9 265.8,365.07 266.4,364.89 267,364.33 267.6,365.2 268.2,365.05 268.8,364.74 269.4,364.23 270,365.07 270.6,364.85 271.2,364.84 271.8,364.23 272.4,364.93 273,364.21 273.6,364.63 274.2,364.25 274.8,364.41 275.4,364.84 276,364.52 276.6,364.27 276.7,363.68 277.06,363.35 277.2,363.01 277.3,361.55 277.54,356.49 277.72,350.63 277.8,348.23 277.9,347.24 278.08,349.96 278.26,356.76 278.4,360.69 278.5,362.22 278.74,363.4 279,363.48 279.1,363.4 279.6,364.57 280.2,364.83 280.8,364.3 281.4,364.85 282,364.55 282.6,364.8 283.2,365.03 283.8,364.53 284.4,364.84 285,364.48 285.6,364.74 286.2,364.27 286.8,364.5 287.4,364.52 288,365.15 288.6,364.37 289.2,364.99 289.8,364.31 290.4,365.19 291,364.35 291.6,364.23 292.2,364.28 292.56,364.91 292.8,364.36 293.04,363.52 293.22,361.87 293.4,360.84 293.58,361.7 293.76,363.07 294,364.66 294.24,364.11 294.6,364.26 295.2,364.9 295.8,364.15 296.4,364.94 297,364.12 297.36,364.19 297.6,363.61 297.84,361.3 298.02,357.46 298.2,356.7 298.38,357.57 298.56,361.12 298.8,362.98 299.04,364.4 299.4,364.01 300,364.2 300.6,364.11 301.2,364.45 301.8,364.48 302.4,365.14 303,364.75 303.6,364.47 304.2,365.03 304.4,364.18 304.76,364.11 304.8,364.82 305,364.47 305.24,362.77 305.4,361.56 305.42,360.46 305.6,360.45 305.78,361.11 305.96,362.76 306,363.27 306.2,363.63 306.44,364.1 306.6,364.1 306.8,364.49 307.2,364.62 307.8,364.67 308.4,364.52 309,364.91 309.6,365.01 310.2,364.91 310.8,364.16 311.4,364.21 312,364.16 312.4,364.06 312.6,364.31 312.76,363.81 313,363.52 313.2,361.17 313.24,360.55 313.42,357.71 313.6,356.32 313.78,357.19 313.8,357.68 313.96,361.17 314.2,363.11 314.4,363.59 314.44,363.81 314.8,364.65 315,364.63 315.6,364.97 316.2,364.61 316.8,364.2 317.4,364.49 318,364.92 318.6,364.6 319.2,364.34 319.8,364.57 320.4,364.63 321,364.47 321.3,364.52 321.6,364.14 321.66,364.01 321.9,364.44 322.14,363.17 322.2,362.39 322.32,361.12 322.5,360.57 322.68,361.57 322.8,362.86 322.86,362.92 323.1,364.63 323.34,364.51 323.4,364.19 323.7,364.69 324,364.72 324.6,364.78 325.2,364.94 325.8,364.26 326.4,364.69 327,365.06 327.6,364.4 328.2,364.31 328.8,364.46 329.4,364.56 330,364.71 330.6,364.6 331.2,364.92 331.8,364.45 332.4,364.63 333,364.96 333.6,364.83 334.2,365.25 334.8,365.22 335.4,364.55 336,364.62 336.6,364.83 337.2,364.83 337.8,364.66 338.4,365.15 339,364.49 339.6,364.76 340.2,364.41 340.8,365.18 341.4,364.89 342,365.28 342.6,364.44 343.2,365 343.8,364.89 344.4,364.35 345,365.11 345.6,365.17 346.2,364.38 346.8,365.24 347.4,365.08 348,364.9 348.6,364.84 349.2,364.56 349.8,364.35 350.4,364.77 351,365.16 351.6,364.5 352.2,364.77 352.8,364.58 353.4,364.99 354,365.26 354.6,365.18 355.2,364.58"/><polyline fill="none" stroke="#0070c0" stroke-width="3.0" stroke-linejoin="round" stroke-linecap="round" points="67.4,426.5 67.6,421.5 68.4,425.5 69.2,420 69.9,419.6 70.6,422.5 71.5,426.5 72.5,429 73.5,430.5 73.8,429.82 74.4,430.89 75,431.95 75.6,432.23 76.2,431.92 76.8,432.37 77.4,432.68 78,433.57 78.6,433.67 79.2,433.31 79.8,434.19 80.4,433.63 81,434.12 81.6,433.64 82.2,433.52 82.8,434.4 83.4,433.75 84,433.77 84.6,434.55 85.2,434.45 85.8,433.88 86.4,434.56 87,434.15 87.6,434.3 88.2,433.84 88.8,434.58 89.4,434.34 90,434.63 90.6,434.57 91.2,433.98 91.8,434.05 92.4,433.87 93,433.86 93.6,433.79 94.2,434.03 94.8,434.34 95.4,433.73 96,434.37 96.6,434 97.2,433.94 97.8,434.41 98.4,434.04 99,433.84 99.6,433.97 100.2,434.16 100.8,433.48 101.4,434.36 102,433.37 102.6,434.05 103.2,434.11 103.8,433.24 104.4,433.96 105,433.49 105.6,433.65 106.2,433.02 106.8,432.99 107.4,433.06 108,433.74 108.6,432.88 109.2,433.29 109.8,433.23 110.4,433.09 111,432.06 111.4,431.54 111.6,431.35 112.2,430.07 112.7,427.53 112.8,427.73 113.4,424.7 113.74,422.76 114,420.35 114.52,418.21 114.6,416.95 115.2,415.39 115.3,415.65 115.8,416.62 116.4,417.91 116.5,418.89 117,420.66 117.6,423.16 117.7,423.62 118.2,425.67 118.8,427.94 119.3,429.76 119.4,430.62 120,432.66 120.6,433.23 121.2,434.21 121.3,435.31 121.8,435.54 122.4,436.05 123,436.37 123.6,437.1 124.2,437.64 124.8,437.53 125.4,437.64 126,437.36 126.6,438.29 127.2,437.48 127.8,438 128.4,438.4 129,437.74 129.6,438.39 130.2,438.66 130.8,438.38 131.4,438.58 132,437.94 132.6,438.31 133.2,438.06 133.8,438.79 134.4,438.28 135,438.47 135.6,439.05 136.2,438.94 136.8,439.1 137.4,438.61 138,438.68 138.6,438.95 139.2,438.73 139.8,438.57 140.4,438.71 141,438.47 141.6,438.72 142.2,439.35 142.8,439.34 143.4,439.03 144,438.92 144.6,438.77 145.2,438.54 145.8,438.73 146.4,439.26 147,439.35 147.6,438.85 148.2,439.28 148.8,439.27 149.4,439.17 150,439.11 150.6,439.18 151.2,438.61 151.8,438.28 151.85,437.75 152.4,436.18 152.5,435.98 153,432.86 153.02,432.33 153.41,430.31 153.6,429.06 153.8,428.61 154.2,429.08 154.28,430 154.76,432.46 154.8,433.11 155.4,435.97 156,438.3 156.2,438.56 156.6,439.29 157.2,439.29 157.8,439.8 158.4,440.03 159,440.22 159.6,439.83 160.2,440.4 160.8,440.47 161.4,440.32 162,440.64 162.6,440.66 163.2,440.25 163.8,440.29 164.4,439.96 165,440.65 165.6,440.78 166.2,440.35 166.8,440.59 167.4,440.64 168,440.68 168.6,440.14 169.2,440.78 169.8,440.6 170.4,440.69 171,440.45 171.6,440.65 172.2,440.8 172.8,440.66 173.4,440.74 174,440.05 174.6,440.17 175.2,440.45 175.8,440.66 176.4,440.22 177,440.68 177.6,440.62 178.2,440.02 178.8,440.43 179.4,440.17 180,439.97 180.6,440.03 181.2,440.18 181.8,439.99 182.4,439.9 183,439.56 183.6,439.66 183.7,439.49 184.06,439.27 184.2,438.65 184.3,437.34 184.54,432.14 184.72,424.33 184.8,422.37 184.9,421.07 185.08,424.74 185.26,431.36 185.4,436.21 185.5,437.49 185.74,438.71 186,439.66 186.1,439.23 186.6,440.01 187.2,440.03 187.8,440.4 188.4,440.85 189,440.76 189.6,440.38 190.2,440.79 190.8,440.61 191.4,440.32 192,440.06 192.6,440.45 193.2,440.28 193.8,440.42 194.4,439.93 194.8,439.03 195,438.41 195.6,437.45 196,435.17 196.2,434.46 196.8,432.05 196.96,431.25 197.4,428.39 197.68,427.47 198,426.45 198.4,425.29 198.6,425.45 199.2,426.56 199.36,427.16 199.8,429.54 200.32,431.06 200.4,431.96 201,434.16 201.6,435.76 202.2,436.95 202.8,438.79 203.2,438.85 203.4,438.99 204,439.39 204.6,440.36 205.2,440.04 205.8,439.93 206.4,440.17 207,439.84 207.6,440.35 208.2,440.17 208.8,440.01 209.4,440.48 210,440.51 210.6,439.67 211.2,440.17 211.8,439.88 212.4,440.51 213,440.32 213.6,439.74 214.2,439.71 214.8,439.53 215.4,440.29 216,439.48 216.6,439.64 217.2,439.26 217.5,439.24 217.8,438.93 217.86,438.97 218.1,437.14 218.34,433.29 218.4,431.09 218.52,427.78 218.7,424.88 218.88,427.52 219,431.27 219.06,432.94 219.3,437.28 219.54,438.83 219.6,438.77 219.9,438.44 220.2,438.79 220.8,439.14 221.4,439.65 222,439.61 222.6,439.21 223.2,438.58 223.8,439.17 224.4,438.52 225,438.14 225.6,437.36 225.7,437.08 226.2,435.63 226.8,433.8 227,432.34 227.4,430.19 228,426.85 228.04,425.93 228.6,422.21 228.82,421.36 229.2,418.72 229.6,418.7 229.8,418.66 230.4,419.79 230.68,420.73 231,422.65 231.6,425.68 231.76,425.69 232.2,428.09 232.8,430.72 233.2,432.15 233.4,432.65 234,434.2 234.6,435.93 235,436.81 235.2,436.34 235.8,437.14 236.4,438.14 237,438.37 237.6,438.4 238.2,437.86 238.8,438.62 239.4,438.91 240,438.95 240.6,438.66 241.2,438.01 241.8,438.8 242.4,438.17 243,438.59 243.6,438.88 244.2,438.62 244.8,438.03 245.4,438.2 246,438.86 246.6,438.11 247.2,438.6 247.8,438.43 248.4,438.2 249,438.68 249.6,438.13 250.2,438.21 250.8,438.5 251.4,438.21 252,438.21 252.6,438.74 253.2,438.91 253.8,439.05 254.4,438.29 255,438.55 255.6,438.35 256,438.54 256.2,438.36 256.36,438.71 256.6,437.53 256.8,435.41 256.84,435.5 257.02,432.18 257.2,431.25 257.38,432.55 257.4,433.24 257.56,435.38 257.8,437.81 258,438.04 258.04,438.37 258.4,438.27 258.6,438.84 259.2,438.74 259.8,438.45 260.4,438.61 261,438.79 261.6,439.19 262.2,438.66 262.8,439.22 263.4,439.18 264,438.63 264.6,439.24 265.2,438.68 265.8,438.73 266.4,439.22 267,438.88 267.6,439.53 268.2,439.15 268.8,439.01 269.4,439.49 270,438.74 270.6,439.44 271.2,438.77 271.8,438.87 272.4,439.67 273,439.39 273.6,438.91 274.2,438.76 274.8,439.55 275.4,439.12 276,439.07 276.6,438.01 277,438.07 277.2,437.5 277.36,436.96 277.6,434.6 277.8,427.75 277.84,425.3 278.02,414.36 278.2,408.5 278.38,414.81 278.4,415.78 278.56,425.78 278.8,434.73 279,437.44 279.04,437.29 279.4,438.11 279.6,438.33 280.2,439 280.8,438.95 281.4,438.83 282,438.88 282.6,439.14 283.2,439.04 283.8,439.93 284.4,439.57 285,439.88 285.6,439.15 286.2,439.65 286.8,440.09 287.4,439.84 288,439.67 288.6,439.73 289.2,439.37 289.8,439.43 290.4,439.44 291,439.63 291.6,439.6 292.2,439.99 292.56,439.13 292.8,438.74 293.04,436.88 293.22,434.55 293.4,433.55 293.58,434.64 293.76,437.11 294,438.56 294.24,439.96 294.6,439.56 295.2,440.27 295.8,440.1 296.4,440.15 297,439.99 297.6,440.5 298.2,439.7 298.8,440.27 299.4,439.92 300,440.33 300.6,440.4 301.2,439.86 301.8,439.91 302.4,439.76 303,439.98 303.6,439.85 304.2,440.19 304.8,440.78 305.4,440.19 306,440.15 306.6,440.33 307.2,440.16 307.8,440.63 308.4,440.63 309,440.09 309.6,440.18 310.2,440.62 310.8,440.9 311.4,440.61 312,440.4 312.6,440.93 313.2,439.94 313.8,439.93 314.3,440.46 314.4,439.97 314.66,438.92 314.9,438.05 315,437.7 315.14,436.06 315.32,434.62 315.5,433.86 315.6,434 315.68,435.18 315.86,436.05 316.1,438.46 316.2,438.26 316.34,439.16 316.7,439.79 316.8,440.21 317.4,440.05 318,440.32 318.6,440.51 319.2,440.43 319.8,440.18 320.4,440.13 321,440.98 321.4,439.99 321.6,439.98 321.76,439.32 322,437.93 322.2,435.69 322.24,435.55 322.42,433.94 322.6,433.81 322.78,434.75 322.8,434.56 322.96,436.1 323.2,437.63 323.4,438.77 323.44,439.49 323.8,440.34 324,440.57 324.6,440.52 325.2,440.84 325.8,440.98 326.4,441.2 327,440.62 327.6,440.78 328.2,441.17 328.8,440.58 329.4,440.49 330,440.69 330.6,440.48 331.2,441.17 331.8,441.23 332.4,440.73 333,440.55 333.6,440.52 334.2,440.69 334.8,440.53 335.4,440.88 336,441.04 336.6,440.72 337.2,440.54 337.8,441.19 338.4,440.54 339,440.7 339.6,440.79 340.2,440.89 340.8,440.62 341.4,440.95 342,440.85 342.6,441.3 343.2,441.11 343.8,441.45 344.4,441.22 345,441.33 345.6,441.15 346.2,441.03 346.8,441.41 347.4,441.25 348,441.56 348.6,441.34 349.2,441.32 349.8,440.89 350.4,441.45 351,441.02 351.6,440.78 352.2,440.72 352.8,440.83 353.4,440.93 354,441.35 354.6,440.97 355.2,440.75"/><line x1="74.4" y1="90.7" x2="74.4" y2="484" stroke="#222" stroke-width="1.3" stroke-dasharray="1.8,1.2"/><line x1="110.5" y1="90.7" x2="110.5" y2="484" stroke="#222" stroke-width="1.3" stroke-dasharray="1.8,1.2"/><line x1="153.4" y1="90.7" x2="153.4" y2="484" stroke="#c4d4f0" stroke-width="1.1"/><line x1="153.4" y1="90.7" x2="153.4" y2="484" stroke="#3a4d78" stroke-width="1.3" stroke-dasharray="1.8,1.2"/><line x1="195.9" y1="90.7" x2="195.9" y2="484" stroke="#9a9a9a" stroke-width="1.3" stroke-dasharray="1.8,1.2"/><line x1="206.0" y1="90.7" x2="206.0" y2="484" stroke="#3c3c3c" stroke-width="1.3" stroke-dasharray="1.8,1.2"/><line x1="223.7" y1="90.7" x2="223.7" y2="484" stroke="#333" stroke-width="1.3" stroke-dasharray="1.8,1.2"/><line x1="263.9" y1="90.7" x2="263.9" y2="484" stroke="#cfe6cc" stroke-width="1.1"/><line x1="263.9" y1="90.7" x2="263.9" y2="484" stroke="#66755f" stroke-width="1.3" stroke-dasharray="1.8,1.2"/><line x1="298.1" y1="111.5" x2="298.1" y2="484" stroke="#666" stroke-width="1.3" stroke-dasharray="1.8,1.2"/><line x1="305.5" y1="111.5" x2="305.5" y2="484" stroke="#2a2a2a" stroke-width="1.3" stroke-dasharray="1.8,1.2"/><line x1="313.4" y1="111.5" x2="313.4" y2="484" stroke="#333" stroke-width="1.3" stroke-dasharray="1.8,1.2"/><line x1="73.5" y1="484.2" x2="368" y2="484.2" stroke="#000" stroke-width="2.1"/><line x1="74.5" y1="481.6" x2="74.5" y2="484" stroke="#000" stroke-width="2"/><line x1="110.8" y1="480.6" x2="110.8" y2="484" stroke="#000" stroke-width="2"/><line x1="136.5" y1="481.8" x2="136.5" y2="484" stroke="#000" stroke-width="2"/><line x1="153.4" y1="452.0" x2="153.4" y2="484" stroke="#000" stroke-width="2"/><line x1="176.9" y1="481.8" x2="176.9" y2="484" stroke="#000" stroke-width="2"/><line x1="195.5" y1="475.0" x2="195.5" y2="484" stroke="#000" stroke-width="2"/><line x1="209.6" y1="474.5" x2="209.6" y2="484" stroke="#000" stroke-width="2"/><line x1="223.6" y1="480.7" x2="223.6" y2="484" stroke="#000" stroke-width="2"/><line x1="248" y1="481.5" x2="248" y2="484" stroke="#000" stroke-width="2"/><line x1="276.4" y1="481.6" x2="276.4" y2="484" stroke="#000" stroke-width="2"/><line x1="298.3" y1="481.3" x2="298.3" y2="484" stroke="#000" stroke-width="2"/><line x1="316.9" y1="481.6" x2="316.9" y2="484" stroke="#000" stroke-width="2"/><line x1="341.4" y1="481.8" x2="341.4" y2="484" stroke="#000" stroke-width="2"/><rect x="38" y="12.3" width="375" height="472.1" fill="none" stroke="#4a4a4a" stroke-width="1.3"/><line x1="37.4" y1="484.3" x2="413.6" y2="484.3" stroke="#222" stroke-width="1.4"/><line x1="38.00" y1="484" x2="38.00" y2="489.6" stroke="#333" stroke-width="1.2"/><line x1="58.83" y1="484" x2="58.83" y2="489.0" stroke="#333" stroke-width="1.2"/><line x1="79.67" y1="484" x2="79.67" y2="489.6" stroke="#333" stroke-width="1.2"/><line x1="100.50" y1="484" x2="100.50" y2="489.0" stroke="#333" stroke-width="1.2"/><line x1="121.33" y1="484" x2="121.33" y2="489.6" stroke="#333" stroke-width="1.2"/><line x1="142.17" y1="484" x2="142.17" y2="489.0" stroke="#333" stroke-width="1.2"/><line x1="163.00" y1="484" x2="163.00" y2="489.6" stroke="#333" stroke-width="1.2"/><line x1="183.83" y1="484" x2="183.83" y2="489.0" stroke="#333" stroke-width="1.2"/><line x1="204.67" y1="484" x2="204.67" y2="489.6" stroke="#333" stroke-width="1.2"/><line x1="225.50" y1="484" x2="225.50" y2="489.0" stroke="#333" stroke-width="1.2"/><line x1="246.33" y1="484" x2="246.33" y2="489.6" stroke="#333" stroke-width="1.2"/><line x1="267.17" y1="484" x2="267.17" y2="489.0" stroke="#333" stroke-width="1.2"/><line x1="288.00" y1="484" x2="288.00" y2="489.6" stroke="#333" stroke-width="1.2"/><line x1="308.83" y1="484" x2="308.83" y2="489.0" stroke="#333" stroke-width="1.2"/><line x1="329.67" y1="484" x2="329.67" y2="489.6" stroke="#333" stroke-width="1.2"/><line x1="350.50" y1="484" x2="350.50" y2="489.0" stroke="#333" stroke-width="1.2"/><line x1="371.33" y1="484" x2="371.33" y2="489.6" stroke="#333" stroke-width="1.2"/><line x1="392.17" y1="484" x2="392.17" y2="489.0" stroke="#333" stroke-width="1.2"/><line x1="413.00" y1="484" x2="413.00" y2="489.6" stroke="#333" stroke-width="1.2"/><line x1="38" y1="91.2" x2="42.8" y2="91.2" stroke="#333" stroke-width="1.2"/><line x1="38" y1="169.9" x2="42.8" y2="169.9" stroke="#333" stroke-width="1.2"/><line x1="38" y1="248.5" x2="42.8" y2="248.5" stroke="#333" stroke-width="1.2"/><line x1="38" y1="327.0" x2="42.8" y2="327.0" stroke="#333" stroke-width="1.2"/><line x1="38" y1="405.6" x2="42.8" y2="405.6" stroke="#333" stroke-width="1.2"/><text x="38.00" y="513.5" text-anchor="middle" font-family="Liberation Sans" font-weight="bold" font-size="18.9">0</text><text x="79.67" y="513.5" text-anchor="middle" font-family="Liberation Sans" font-weight="bold" font-size="18.9">10</text><text x="121.33" y="513.5" text-anchor="middle" font-family="Liberation Sans" font-weight="bold" font-size="18.9">20</text><text x="163.00" y="513.5" text-anchor="middle" font-family="Liberation Sans" font-weight="bold" font-size="18.9">30</text><text x="204.67" y="513.5" text-anchor="middle" font-family="Liberation Sans" font-weight="bold" font-size="18.9">40</text><text x="246.33" y="513.5" text-anchor="middle" font-family="Liberation Sans" font-weight="bold" font-size="18.9">50</text><text x="288.00" y="513.5" text-anchor="middle" font-family="Liberation Sans" font-weight="bold" font-size="18.9">60</text><text x="329.67" y="513.5" text-anchor="middle" font-family="Liberation Sans" font-weight="bold" font-size="18.9">70</text><text x="371.33" y="513.5" text-anchor="middle" font-family="Liberation Sans" font-weight="bold" font-size="18.9">80</text><text x="413.00" y="513.5" text-anchor="middle" font-family="Liberation Sans" font-weight="bold" font-size="18.9">90</text><text x="186.2" y="537.8" font-family="Liberation Sans" font-weight="bold" font-size="18.9">2<tspan font-style="italic" font-size="21">θ</tspan> [deg.]</text><text transform="translate(18.7,359.8) rotate(-90)" font-family="Liberation Sans" font-weight="bold" font-size="19">XRD intensity</text><text transform="translate(18.3,222.5) rotate(-90)" font-family="Liberation Sans" font-weight="bold" font-size="19">[arb. unit]</text><text transform="translate(79.5,86.7) rotate(-90)" font-family="Liberation Sans" font-size="16">003</text><text transform="translate(116.6,52.8) rotate(-90)" font-family="Liberation Sans" font-size="16">006</text><text transform="translate(159,87.0) rotate(-90)" font-family="Liberation Sans" font-size="16">015</text><text transform="translate(197.8,52.6) rotate(-90)" font-family="Liberation Sans" font-size="16">1010</text><text transform="translate(212.8,86.5) rotate(-90)" font-family="Liberation Sans" font-size="16">0111</text><text transform="translate(232.2,75.5) rotate(-90)" font-family="Liberation Sans" font-size="16">0015</text><text transform="translate(268.2,86.7) rotate(-90)" font-family="Liberation Sans" font-size="16">0018</text><text transform="translate(296.1,88.4) rotate(-90)" font-family="Liberation Sans" font-size="16">1115</text><text transform="translate(314.0,90.3) rotate(-90)" font-family="Liberation Sans" font-size="16">0021</text><text transform="translate(335.2,90.3) rotate(-90)" font-family="Liberation Sans" font-size="16">0120</text><line x1="200.0" y1="18.3" x2="200.0" y2="35.3" stroke="#3a3a3a" stroke-width="1"/><line x1="214.4" y1="52.3" x2="214.4" y2="70.0" stroke="#3a3a3a" stroke-width="1"/><line x1="233.8" y1="39.4" x2="233.8" y2="56.8" stroke="#3a3a3a" stroke-width="1"/><line x1="271.0" y1="51.4" x2="271.0" y2="68.7" stroke="#3a3a3a" stroke-width="1"/><line x1="297.4" y1="54.6" x2="297.4" y2="71.0" stroke="#3a3a3a" stroke-width="1"/><line x1="316.5" y1="56.3" x2="316.5" y2="71.9" stroke="#3a3a3a" stroke-width="1"/><line x1="336.2" y1="54.4" x2="336.2" y2="71.5" stroke="#3a3a3a" stroke-width="1"/><line x1="292.5" y1="91" x2="297.6" y2="110" stroke="#4a4a4a" stroke-width="1"/><line x1="309.3" y1="92.3" x2="305.9" y2="110" stroke="#4a4a4a" stroke-width="1"/><line x1="329.8" y1="93.2" x2="314.1" y2="110" stroke="#4a4a4a" stroke-width="1"/><circle cx="332.6" cy="27.5" r="4.2" fill="#000"/><text x="339.8" y="31.6" font-family="Liberation Sans" font-size="16">:</text><text x="347.6" y="31.6" font-family="Liberation Sans" font-size="16">Alumina</text><text x="405.3" y="122.3" text-anchor="end" font-family="Liberation Sans" font-weight="bold" font-size="16">16 K/min</text><text x="405.3" y="201.1" text-anchor="end" font-family="Liberation Sans" font-weight="bold" font-size="16">12 K/min</text><text x="405.3" y="280.4" text-anchor="end" font-family="Liberation Sans" font-weight="bold" font-size="16">8 K/min</text><text x="405.3" y="359.0" text-anchor="end" font-family="Liberation Sans" font-weight="bold" font-size="16">4 K/min</text><text x="408.5" y="415.4" text-anchor="end" font-family="Liberation Sans" font-weight="bold" font-size="16.2">Unannealed</text><text x="407" y="462.1" text-anchor="end" font-family="Liberation Sans" font-weight="bold" font-size="15">Bi<tspan font-size="10" dy="3">2</tspan><tspan dy="-3">Te</tspan><tspan font-size="10" dy="3">3</tspan></text><text x="313" y="478.7" font-family="Liberation Sans" font-weight="bold" font-size="14.9">JCPD</text><text x="409.6" y="478.7" text-anchor="end" font-family="Liberation Sans" font-weight="bold" font-size="14.9">15-0863</text><circle cx="144.4" cy="429.9" r="3.8" fill="#000"/><circle cx="183.9" cy="414.0" r="3.8" fill="#000"/><circle cx="218.1" cy="417.3" r="3.8" fill="#000"/><circle cx="256.7" cy="423.8" r="3.8" fill="#000"/><circle cx="277.5" cy="399.4" r="3.8" fill="#000"/><circle cx="292.2" cy="426.8" r="3.8" fill="#000"/><circle cx="323.1" cy="426.6" r="3.8" fill="#000"/></svg></body></html>
